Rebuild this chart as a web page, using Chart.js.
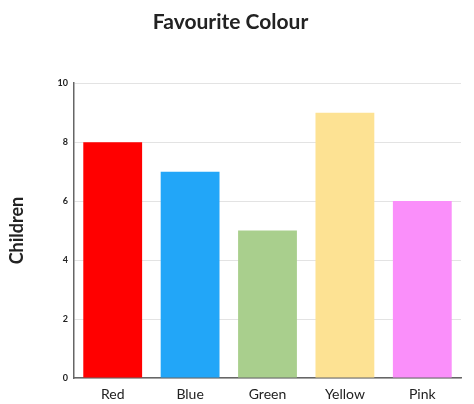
<!DOCTYPE html>
<html><head><meta charset="utf-8">
<script src="https://cdn.jsdelivr.net/npm/chart.js@4"></script>
<style>html,body{margin:0;background:#fff}#wrap{width:474px;height:404px}</style>
</head><body><div id="wrap"><canvas id="c"></canvas></div>
<script>
const categories = ['Red', 'Blue', 'Green', 'Yellow', 'Pink'];
const children = [8, 7, 5, 9, 6];
const barColors = ['#ff0000', '#22a6f8', '#a9cf8d', '#fde293', '#fa8ffa'];
const yTicks = [0, 2, 4, 6, 8, 10];

new Chart(document.getElementById('c'), {
  type: 'bar',
  data: {
    labels: categories,
    datasets: [{ data: children, backgroundColor: barColors, barPercentage: 0.76, categoryPercentage: 1 }],
  },
  options: {
    responsive: true, maintainAspectRatio: false, animation: false,
    layout: { padding: { left: 0, right: 13, top: 8, bottom: 0 } },
    plugins: {
      legend: { display: false },
      tooltip: { enabled: false },
      title: { display: true, text: 'Favourite Colour', color: '#222', font: { family: 'Lato', size: 21, weight: 'bold' }, padding: { top: 2, bottom: 48 } },
    },
    scales: {
      x: {
        grid: { display: false },
        border: { color: '#666', width: 1.5 },
        ticks: { color: '#222', font: { family: 'Lato', size: 14 }, padding: 0 },
        afterFit: s => { s.height = 26; },
      },
      y: {
        min: 0, max: 10,
        afterBuildTicks: s => { s.ticks = yTicks.map(v => ({ value: v })); },
        afterFit: s => { s.width = 74; },
        grid: { color: '#e3e3e3', drawTicks: false },
        border: { color: '#666', width: 1.5 },
        ticks: { color: '#222', font: { family: 'Lato', size: 9, weight: 'bold' }, padding: 6 },
        title: { display: true, text: 'Children', color: '#222', font: { family: 'Lato', size: 18, weight: 'bold' }, padding: 6 },
      },
    },
  },
});
</script></body></html>
